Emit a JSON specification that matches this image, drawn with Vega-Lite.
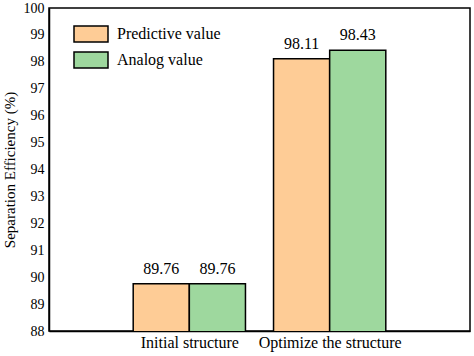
{
  "$schema": "https://vega.github.io/schema/vega-lite/v6.json",
  "width": 421,
  "height": 323,
  "autosize": {"type": "none"},
  "padding": {"left": 49, "top": 8, "right": 4, "bottom": 25},
  "background": "white",
  "config": {
    "font": "Times New Roman, Liberation Serif, serif",
    "text": {"font": "Times New Roman, Liberation Serif, serif"},
    "view": {"stroke": "black", "strokeWidth": 1.5},
    "axis": {"labelFont": "Times New Roman, Liberation Serif, serif", "titleFont": "Times New Roman, Liberation Serif, serif", "domainColor": "black", "domainWidth": 1.5, "tickColor": "black", "tickWidth": 1.2, "labelColor": "black", "titleColor": "black", "grid": false},
    "legend": {"labelFont": "Times New Roman, Liberation Serif, serif"}
  },
  "data": {
    "values": [
      {"group": "Initial structure", "series": "Predictive value", "value": 89.76},
      {"group": "Initial structure", "series": "Analog value", "value": 89.76},
      {"group": "Optimize the structure", "series": "Predictive value", "value": 98.11},
      {"group": "Optimize the structure", "series": "Analog value", "value": 98.43}
    ]
  },
  "encoding": {
    "x": {
      "field": "group", "type": "nominal",
      "sort": ["Initial structure", "Optimize the structure"],
      "scale": {"paddingInner": 0.2, "paddingOuter": 0.6},
      "axis": {
        "title": null, "labelAngle": 0, "labelFontSize": 16, "labelPadding": 3,
        "tickSize": 0, "tickBand": "extent",
        "encode": {"ticks": {"update": {"y2": {"value": -5}}}}
      }
    },
    "xOffset": {
      "field": "series", "type": "nominal",
      "sort": ["Predictive value", "Analog value"],
      "scale": {"paddingInner": 0, "paddingOuter": 0}
    },
    "y": {
      "field": "value", "type": "quantitative",
      "scale": {"domain": [88, 100], "zero": false, "nice": false},
      "axis": {
        "title": "Separation Efficiency (%)", "titleFontSize": 15, "titleFontWeight": "normal", "titlePadding": 6,
        "labelFontSize": 14, "labelPadding": 5, "tickSize": 0,
        "values": [88, 88.5, 89, 89.5, 90, 90.5, 91, 91.5, 92, 92.5, 93, 93.5, 94, 94.5, 95, 95.5, 96, 96.5, 97, 97.5, 98, 98.5, 99, 99.5, 100],
        "labelExpr": "datum.value % 1 ? '' : format(datum.value, 'd')",
        "encode": {"ticks": {"update": {"x2": {"signal": "datum.value % 1 ? 3 : 5"}}}}
      }
    }
  },
  "layer": [
    {
      "mark": {"type": "bar", "stroke": "black", "strokeWidth": 1.5, "clip": true},
      "encoding": {
        "color": {
          "field": "series", "type": "nominal",
          "sort": ["Predictive value", "Analog value"],
          "scale": {"domain": ["Predictive value", "Analog value"], "range": ["#FECC96", "#9ED89E"]},
          "legend": {
            "title": null, "orient": "none", "legendX": 33, "legendY": 17, "padding": 0,
            "labelFontSize": 16, "labelColor": "black", "labelOffset": 17,
            "labelFont": "Times New Roman, Liberation Serif, serif",
            "symbolType": "M-2.125,-1H2.125V1H-2.125Z", "symbolSize": 256,
            "symbolStrokeColor": "black", "symbolStrokeWidth": 1.5, "symbolOpacity": 1,
            "rowPadding": 4
          }
        }
      }
    },
    {
      "mark": {"type": "text", "baseline": "bottom", "dy": -7, "fontSize": 16, "color": "black", "font": "Times New Roman, Liberation Serif, serif"},
      "encoding": {"text": {"field": "value", "type": "quantitative", "format": ".2f"}}
    }
  ]
}
